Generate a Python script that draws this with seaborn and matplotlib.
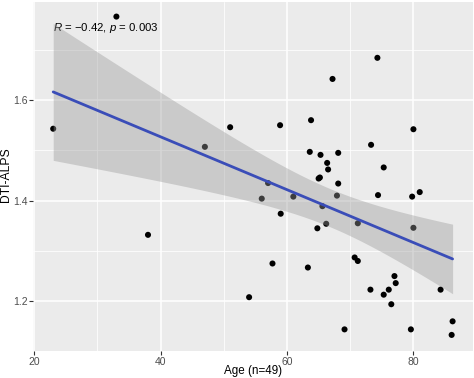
import numpy as np
import pandas as pd
import seaborn as sns
import matplotlib
matplotlib.use("Agg")
import matplotlib.pyplot as plt
from matplotlib.ticker import MultipleLocator

age = [23, 33, 38, 47, 51, 54, 56, 57, 57.7, 59, 58.9, 61, 63.3, 63.6, 63.8,
       64.8, 65.0, 65.2, 65.3, 65.6, 66.2, 66.35, 66.5, 67.2, 67.9, 68.1, 68.1,
       69.1, 70.7, 71.2, 71.2, 73.2, 73.3, 74.3, 74.4, 75.3, 75.3, 76.1, 76.5,
       77.0, 77.2, 79.6, 79.8, 80.0, 80.0, 81.0, 84.3, 86.2, 86.05]
alps = [1.543, 1.766, 1.332, 1.507, 1.546, 1.208, 1.404, 1.435, 1.275, 1.374,
        1.550, 1.408, 1.267, 1.497, 1.560, 1.345, 1.444, 1.446, 1.491, 1.389,
        1.354, 1.475, 1.462, 1.642, 1.410, 1.495, 1.434, 1.144, 1.287, 1.355,
        1.280, 1.223, 1.511, 1.684, 1.411, 1.466, 1.213, 1.223, 1.194, 1.250,
        1.236, 1.144, 1.408, 1.542, 1.346, 1.417, 1.223, 1.160, 1.133]
annotation = "$R$ = \u22120.42, $p$ = 0.003"
x_ticks = [20, 40, 60, 80]
y_ticks = [1.2, 1.4, 1.6]

df = pd.DataFrame({"age": age, "alps": alps})

sns.set_theme(style="darkgrid")
plt.rcParams["font.family"] = ["Liberation Sans", "DejaVu Sans"]
plt.rcParams["mathtext.fontset"] = "custom"
plt.rcParams["mathtext.it"] = "Liberation Sans:italic"
plt.rcParams["mathtext.rm"] = "Liberation Sans"

fig = plt.figure(figsize=(4.74, 3.78), dpi=100)
ax = fig.add_axes([33.3 / 474, 1 - 350.7 / 378, (472.5 - 33.3) / 474, (350.7 - 2) / 378])
ax.set_facecolor("#EBEBEB")

sns.scatterplot(data=df, x="age", y="alps", ax=ax, color="black", s=19,
                edgecolor="none", zorder=3)

# analytic 95% confidence band (as in ggplot geom_smooth(method = "lm"))
x = np.asarray(age, float)
y = np.asarray(alps, float)
n = len(x)
b1, b0 = np.polyfit(x, y, 1)
xs = np.linspace(x.min(), x.max(), 200)
resid = y - (b0 + b1 * x)
s = np.sqrt(np.sum(resid ** 2) / (n - 2))
se = s * np.sqrt(1 / n + (xs - x.mean()) ** 2 / np.sum((x - x.mean()) ** 2))
tval = 2.0117
fit = b0 + b1 * xs
ax.fill_between(xs, fit - tval * se, fit + tval * se, color="#999999",
                alpha=0.4, linewidth=0, zorder=4)
sns.regplot(data=df, x="age", y="alps", ax=ax, scatter=False, ci=None,
            truncate=True, line_kws=dict(color="#3A4DB8", lw=2.0, zorder=5))

ax.set_xlim(19.85, 89.35)
ax.set_ylim(1.1016, 1.795)
ax.set_xticks(x_ticks)
ax.set_yticks(y_ticks)
ax.xaxis.set_minor_locator(MultipleLocator(10))
ax.yaxis.set_minor_locator(MultipleLocator(0.1))
ax.grid(which="major", color="white", lw=1.1)
ax.grid(which="minor", color="white", lw=0.55)
ax.set_axisbelow(True)
for sp in ax.spines.values():
    sp.set_visible(False)
ax.tick_params(which="major", length=2.75, width=0.8, color="#333333",
               labelsize=7.5, labelcolor="#4D4D4D", pad=1.5, bottom=True, left=True)
ax.tick_params(which="minor", length=0)
ax.set_xlabel("Age (n=49)", fontsize=8.4, color="black")
ax.set_ylabel("DTI-ALPS", fontsize=8.7, color="black")
ax.xaxis.set_label_coords(0.5, (350.7 - 371) / 348.7)
ax.xaxis.label.set_va("center")
ax.yaxis.set_label_coords((6.5 - 33.3) / 439.2, 0.505)
ax.yaxis.label.set_va("center")

ax.text(22.9, 1.744, annotation, fontsize=8.2, color="black", ha="left", va="center")

fig.savefig("out.png", dpi=100)
